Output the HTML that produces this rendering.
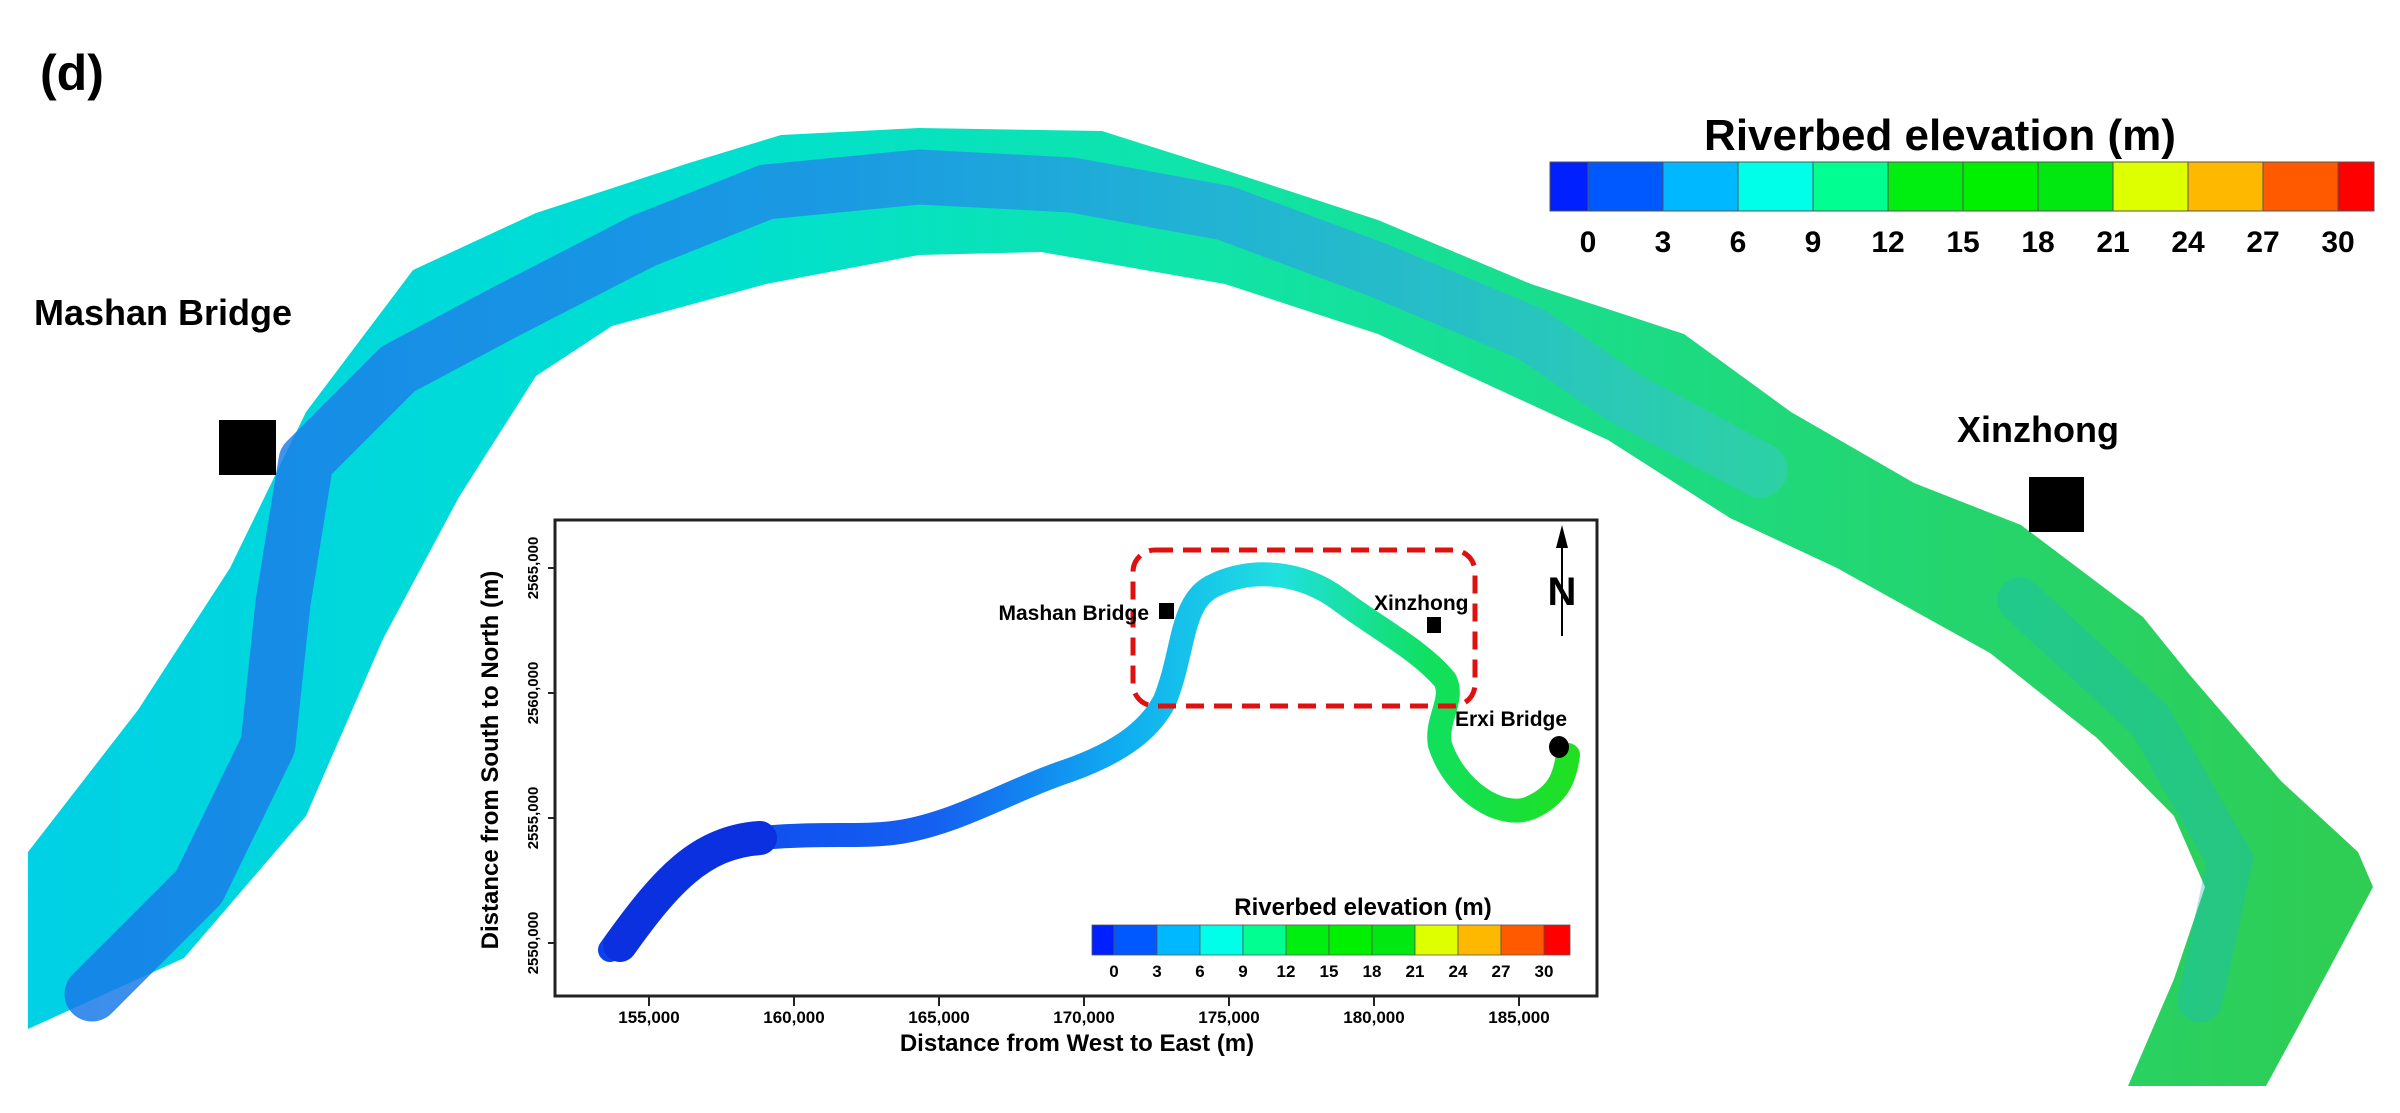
<!DOCTYPE html>
<html><head><meta charset="utf-8"><style>
html,body{margin:0;padding:0;background:#fff;}
svg{display:block;}
text{font-family:"Liberation Sans",sans-serif;font-weight:bold;}
</style></head><body>
<svg width="2400" height="1113" viewBox="0 0 2400 1113" xmlns="http://www.w3.org/2000/svg">
<defs>
<linearGradient id="rg" x1="0" y1="0" x2="2400" y2="0" gradientUnits="userSpaceOnUse">
<stop offset="0" stop-color="#00d0e6"/>
<stop offset="0.3" stop-color="#00e0d0"/>
<stop offset="0.5" stop-color="#10e4a8"/>
<stop offset="0.75" stop-color="#20d878"/>
<stop offset="1" stop-color="#30cc50"/>
</linearGradient>
<linearGradient id="cg" x1="0" y1="0" x2="2400" y2="0" gradientUnits="userSpaceOnUse">
<stop offset="0" stop-color="#1878e8" stop-opacity="0.85"/>
<stop offset="0.35" stop-color="#2088e8" stop-opacity="0.8"/>
<stop offset="0.6" stop-color="#30a8e8" stop-opacity="0.6"/>
<stop offset="0.75" stop-color="#40c8e0" stop-opacity="0.4"/>
<stop offset="1" stop-color="#40d0d0" stop-opacity="0"/>
</linearGradient>
<linearGradient id="ig" x1="590" y1="0" x2="1575" y2="0" gradientUnits="userSpaceOnUse">
<stop offset="0" stop-color="#0a40f0"/>
<stop offset="0.35" stop-color="#1560f0"/>
<stop offset="0.55" stop-color="#10b0f0"/>
<stop offset="0.7" stop-color="#20e0e0"/>
<stop offset="0.85" stop-color="#10e060"/>
<stop offset="1" stop-color="#20e020"/>
</linearGradient>
</defs>

<text x="40" y="90" font-size="50">(d)</text>

<path d="M28,852 L138,710 L230,568 L306,412 L413,270 L536,213 L689,163 L781,135 L919,128 L1102,131 L1225,170 L1378,220 L1531,284 L1684,334 L1791,412 L1914,483 L2021,525 L2143,617 L2189,674 L2281,781 L2358,852 L2373,887 L2297,1029 L2266,1086 L2128,1086 L2174,979 L2205,887 L2174,816 L2097,738 L1990,653 L1837,568 L1730,518 L1608,440 L1378,334 L1225,284 L1041,252 L919,255 L766,284 L612,326 L536,376 L459,497 L383,639 L306,816 L184,958 L28,1029 Z" fill="url(#rg)"/>
<path d="M92,994 L199,887 L268,745 L283,603 L306,461 L398,369 L505,312 L643,241 L766,192 L919,177 L1072,185 L1225,213 L1378,270 L1531,334 L1623,397 L1760,470" fill="none" stroke="url(#cg)" stroke-width="55" stroke-linejoin="round" stroke-linecap="round"/>
<path d="M2020,600 L2150,720 L2230,860 L2200,1000" fill="none" stroke="#1ab8c8" stroke-opacity="0.35" stroke-width="45" stroke-linecap="round"/>

<text x="34" y="325" font-size="36">Mashan Bridge</text>
<rect x="219" y="420" width="57" height="55" fill="#000"/>
<text x="1957" y="442" font-size="36">Xinzhong</text>
<rect x="2029" y="477" width="55" height="55" fill="#000"/>

<text x="1940" y="150" font-size="44" text-anchor="middle">Riverbed elevation (m)</text>
<g stroke="#555" stroke-width="1">
<rect x="1550" y="162" width="38" height="49" fill="#0020ff"/>
<rect x="1588" y="162" width="75" height="49" fill="#0058ff"/>
<rect x="1663" y="162" width="75" height="49" fill="#00b8ff"/>
<rect x="1738" y="162" width="75" height="49" fill="#00ffe8"/>
<rect x="1813" y="162" width="75" height="49" fill="#00ff90"/>
<rect x="1888" y="162" width="75" height="49" fill="#00ee10"/>
<rect x="1963" y="162" width="75" height="49" fill="#00f000"/>
<rect x="2038" y="162" width="75" height="49" fill="#00e810"/>
<rect x="2113" y="162" width="75" height="49" fill="#ddff00"/>
<rect x="2188" y="162" width="75" height="49" fill="#ffb800"/>
<rect x="2263" y="162" width="75" height="49" fill="#ff5a00"/>
<rect x="2338" y="162" width="36" height="49" fill="#ff0000"/>
</g>
<g font-size="30" text-anchor="middle">
<text x="1588" y="252">0</text><text x="1663" y="252">3</text><text x="1738" y="252">6</text><text x="1813" y="252">9</text><text x="1888" y="252">12</text><text x="1963" y="252">15</text><text x="2038" y="252">18</text><text x="2113" y="252">21</text><text x="2188" y="252">24</text><text x="2263" y="252">27</text><text x="2338" y="252">30</text>
</g>

<rect x="555" y="520" width="1042" height="476" fill="#fff" stroke="#222" stroke-width="3"/>
<path d="M610,950 C660,880 690,845 760,838 C830,832 860,838 900,832 C960,822 1010,790 1070,770 C1120,752 1150,730 1165,700 C1185,650 1180,600 1215,585 C1250,568 1300,570 1340,600 C1380,630 1420,650 1445,680 C1455,700 1435,720 1440,745 C1455,790 1500,820 1530,808 C1560,795 1565,775 1568,755" fill="none" stroke="url(#ig)" stroke-width="24" stroke-linejoin="round" stroke-linecap="round"/>
<path d="M620,945 C665,882 700,842 760,838" fill="none" stroke="#0a30e0" stroke-width="34" stroke-linecap="round"/>
<rect x="1133" y="550" width="342" height="156" rx="22" fill="none" stroke="#e01010" stroke-width="5" stroke-dasharray="18,10"/>
<text x="1149" y="620" font-size="21" text-anchor="end">Mashan Bridge</text>
<rect x="1159" y="603" width="15" height="16" fill="#000"/>
<text x="1374" y="610" font-size="21">Xinzhong</text>
<rect x="1427" y="617" width="14" height="16" fill="#000"/>
<text x="1455" y="726" font-size="21">Erxi Bridge</text>
<ellipse cx="1559" cy="747" rx="10" ry="11" fill="#000"/>
<line x1="1562" y1="545" x2="1562" y2="636" stroke="#000" stroke-width="2"/>
<polygon points="1562,525 1556,548 1568,548" fill="#000"/>
<text x="1562" y="605" font-size="40" text-anchor="middle">N</text>

<text x="1363" y="915" font-size="24" text-anchor="middle">Riverbed elevation (m)</text>
<g stroke="#555" stroke-width="0.8">
<rect x="1092" y="925" width="22" height="30" fill="#0020ff"/>
<rect x="1114" y="925" width="43" height="30" fill="#0058ff"/>
<rect x="1157" y="925" width="43" height="30" fill="#00b8ff"/>
<rect x="1200" y="925" width="43" height="30" fill="#00ffe8"/>
<rect x="1243" y="925" width="43" height="30" fill="#00ff90"/>
<rect x="1286" y="925" width="43" height="30" fill="#00ee10"/>
<rect x="1329" y="925" width="43" height="30" fill="#00f000"/>
<rect x="1372" y="925" width="43" height="30" fill="#00e810"/>
<rect x="1415" y="925" width="43" height="30" fill="#ddff00"/>
<rect x="1458" y="925" width="43" height="30" fill="#ffb800"/>
<rect x="1501" y="925" width="43" height="30" fill="#ff5a00"/>
<rect x="1544" y="925" width="26" height="30" fill="#ff0000"/>
</g>
<g font-size="17" text-anchor="middle">
<text x="1114" y="977">0</text><text x="1157" y="977">3</text><text x="1200" y="977">6</text><text x="1243" y="977">9</text><text x="1286" y="977">12</text><text x="1329" y="977">15</text><text x="1372" y="977">18</text><text x="1415" y="977">21</text><text x="1458" y="977">24</text><text x="1501" y="977">27</text><text x="1544" y="977">30</text>
</g>

<g stroke="#222" stroke-width="2">
<line x1="649" y1="996" x2="649" y2="1006"/><line x1="794" y1="996" x2="794" y2="1006"/><line x1="939" y1="996" x2="939" y2="1006"/><line x1="1084" y1="996" x2="1084" y2="1006"/><line x1="1229" y1="996" x2="1229" y2="1006"/><line x1="1374" y1="996" x2="1374" y2="1006"/><line x1="1519" y1="996" x2="1519" y2="1006"/>
<line x1="548" y1="568" x2="555" y2="568"/><line x1="548" y1="693" x2="555" y2="693"/><line x1="548" y1="818" x2="555" y2="818"/><line x1="548" y1="943" x2="555" y2="943"/>
</g>
<g font-size="17" text-anchor="middle">
<text x="649" y="1023">155,000</text><text x="794" y="1023">160,000</text><text x="939" y="1023">165,000</text><text x="1084" y="1023">170,000</text><text x="1229" y="1023">175,000</text><text x="1374" y="1023">180,000</text><text x="1519" y="1023">185,000</text>
</g>
<g font-size="15" text-anchor="middle">
<text transform="translate(538,568) rotate(-90)">2565,000</text>
<text transform="translate(538,693) rotate(-90)">2560,000</text>
<text transform="translate(538,818) rotate(-90)">2555,000</text>
<text transform="translate(538,943) rotate(-90)">2550,000</text>
</g>
<text x="1077" y="1051" font-size="24" text-anchor="middle">Distance from West to East (m)</text>
<text transform="translate(498,760) rotate(-90)" font-size="24" text-anchor="middle">Distance from  South to North (m)</text>
</svg>
</body></html>
